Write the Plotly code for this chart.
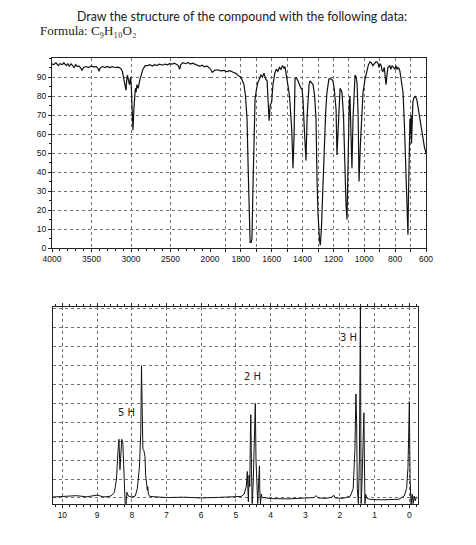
import plotly.graph_objects as go

# IR spectrum: wavenumber (cm-1) and % transmittance
ir_wavenumber = [
    4000, 3980, 3950, 3920, 3900, 3870, 3850, 3820, 3800, 3780, 3760, 3740, 3720, 3700,
    3680, 3660, 3640, 3620, 3600, 3570, 3540, 3500, 3470, 3440, 3420, 3405, 3390, 3360,
    3330, 3300, 3270, 3240, 3200, 3160, 3130, 3110, 3090, 3075, 3063, 3055, 3045, 3035,
    3020, 3005, 2995, 2985, 2975, 2965, 2955, 2945, 2935, 2925, 2910, 2895, 2885, 2870,
    2850, 2820, 2790, 2760, 2730, 2700, 2670, 2640, 2600, 2570, 2540, 2510, 2480, 2450,
    2420, 2400, 2385, 2370, 2340, 2310, 2280, 2250, 2220, 2190, 2160, 2130, 2100, 2070,
    2040, 2020, 2000,
]
ir_transmittance = [
    97, 96.5, 97.5, 96, 97, 96.5, 97.5, 96, 97, 95.5, 97, 96, 95, 96.5,
    95.5, 95.8, 95, 93.5, 95, 95.5, 95, 95.8, 95.2, 95.6, 94.5, 93, 94.8, 95.5,
    95, 95.6, 95, 95.4, 95, 95.2, 94.5, 93, 88, 85, 83, 88, 91, 89,
    86, 90, 84, 72, 62, 72, 80, 84, 82, 86, 84, 88, 89, 91,
    94, 96, 96, 96.5, 95.8, 96.5, 96, 96.8, 96.2, 96.8, 96.4, 97, 96.8, 97.3,
    96.5, 96, 94, 96.5, 97.5, 97, 97.6, 96.8, 97.3, 96.8, 96.4, 95.6, 96.2, 95.4,
    95.8, 95, 94.5,
]
ir_wavenumber_fp = [
    2000, 1985, 1970, 1950, 1930, 1910, 1890, 1870, 1850, 1830, 1815, 1800, 1790, 1780,
    1770, 1760, 1752, 1745, 1740, 1733, 1728, 1722, 1715, 1708, 1700, 1690, 1680, 1670,
    1660, 1650, 1640, 1630, 1625, 1617, 1610, 1600, 1592, 1580, 1570, 1560, 1550, 1540,
    1530, 1520, 1514, 1505, 1495, 1488, 1482, 1470, 1462, 1455, 1449, 1440, 1430, 1418,
    1410, 1404, 1397, 1390, 1378, 1370, 1365, 1358, 1352, 1342, 1332, 1322, 1313, 1306,
    1300, 1290, 1285, 1278, 1268, 1260, 1250, 1242, 1235, 1229, 1215, 1203, 1195, 1188,
    1183, 1177, 1170, 1163, 1157, 1150, 1145, 1135, 1125, 1118, 1112, 1105, 1098, 1093,
    1087, 1080, 1073, 1066, 1060, 1053, 1047, 1040, 1034, 1025, 1015, 1008, 995, 983,
    973, 963, 955, 944, 935, 925, 918, 910, 905, 898, 890, 885, 879, 870,
    863, 859, 853, 847, 835, 828, 820, 812, 801, 795, 788, 782, 775, 769,
    760, 749, 740, 730, 722, 717, 714, 711, 708, 704, 700, 697, 694, 691,
    688, 685, 678, 670, 659, 650, 640, 630, 620, 610, 600,
]
ir_transmittance_fp = [
    94.5, 92.5, 93.5, 93.8, 93.2, 93.5, 92.8, 93.3, 92.5, 91.8, 90.5, 90, 88, 86,
    80, 68, 40, 15, 3, 3, 5, 30, 60, 78, 83, 87, 89, 91,
    90, 92, 89, 88, 80, 67, 75, 77, 86, 92, 94, 93, 95, 94,
    96, 94.5, 95.5, 91, 87, 82, 77, 62, 42, 60, 89, 89.5, 88, 86,
    84, 84, 78, 65, 46, 70, 80, 86, 88, 87, 86, 80, 68, 35,
    18, 4, 1.5, 10, 33, 55, 72, 82, 87, 89, 89, 88, 84, 78,
    73, 49, 62, 78, 84, 83, 82, 70, 33, 22, 15, 59, 75, 80,
    65, 42, 68, 85, 91, 90, 87, 70, 35, 55, 77, 82, 89, 94,
    96.5, 98, 97.5, 96, 97, 98, 98, 97, 95, 97, 96, 93.5, 93, 95,
    89, 86, 91, 95, 96, 94, 96, 95, 94, 96, 94, 95, 94.5, 93,
    88, 82, 65, 42, 20, 7, 25, 50, 62, 68, 60, 70, 55, 60,
    72, 77, 79, 80, 78, 73, 68, 63, 57, 53, 50,
]

# 1H NMR spectrum: chemical shift (ppm) and intensity
nmr_ppm = [
    10.27, 9.9, 9.6, 9.3, 9.0, 8.8, 8.6, 8.5, 8.44, 8.40, 8.37, 8.34, 8.32, 8.29,
    8.26, 8.23, 8.21, 8.19, 8.17, 8.14, 8.1, 8.0, 7.9, 7.84, 7.78, 7.74, 7.72, 7.70,
    7.68, 7.65, 7.62, 7.60, 7.57, 7.55, 7.54, 7.52, 7.48, 7.3, 7.0, 6.5, 6.0, 5.5,
    5.0, 4.85, 4.76, 4.70, 4.67, 4.66, 4.64, 4.62, 4.60, 4.58, 4.57, 4.55, 4.53, 4.50,
    4.47, 4.44, 4.42, 4.40, 4.37, 4.34, 4.32, 4.31, 4.29, 4.27, 4.24, 4.2, 4.0, 3.5,
    3.0, 2.75, 2.69, 2.62, 2.4, 2.22, 2.18, 2.14, 1.9, 1.7, 1.62, 1.57, 1.54, 1.52,
    1.50, 1.47, 1.44, 1.42, 1.41, 1.40, 1.39, 1.37, 1.34, 1.31, 1.29, 1.28, 1.26, 1.23,
    1.19, 1.1, 0.8, 0.5, 0.3, 0.15, 0.08, 0.04, 0.02, 0.0, -0.02, -0.05, -0.08, -0.11,
    -0.14, -0.17, -0.2, -0.24,
]
nmr_intensity = [
    0.05, 0.08, 0.12, 0.06, 0.15, 0.05, 0.1, 0.3, 1.0, 2.4, 3.1, 1.5, 2.6, 3.1,
    3.0, 1.0, 0.1, -0.3, -0.5, 0.3, 0.1, 0.05, 0.1, 0.5, 1.6, 3.5, 7.0, 4.0,
    2.6, 2.5, 2.2, 1.2, 0.8, 0.4, 0.6, 0.2, 0.08, 0.05, 0.02, 0.04, 0.0, 0.03,
    0.05, 0.08, 0.2, 0.6, 1.4, 0.5, -0.2, 1.2, 0.6, 3.5, 4.4, 1.5, -0.3, 0.8,
    4.0, 5.0, 2.0, 0.6, -0.3, 1.0, 1.7, 0.4, -0.3, 0.2, 0.0, 0.02, -0.03, -0.05,
    -0.02, 0.02, 0.12, 0.0, -0.02, 0.05, 0.15, 0.0, -0.02, 0.1, 0.5, 2.5, 5.5, 4.0,
    0.5, -0.3, 2.0, 7.6, 10.5, 4.0, -0.3, 0.5, 3.0, 4.5, 1.0, -0.3, 0.2, 0.0,
    -0.05, -0.08, -0.1, -0.1, -0.07, 0.1, 0.5, 1.6, 3.5, 5.1, 1.0, -0.4, 0.2, -0.3,
    0.1, -0.15, 0.05, 0.0,
]

# integration labels
int_labels = ["5 H", "2 H", "3 H"]
int_x = [8.14, 4.51, 1.74]
int_y = [4.5, 6.45, 8.47]

ir_ticks_left = [4000, 3500, 3000, 2500]
ir_ticks_y = [0, 10, 20, 30, 40, 50, 60, 70, 80, 90]
nmr_ticks = [10, 9, 8, 7, 6, 5, 4, 3, 2, 1, 0]

# the page body has an 8px margin, so the figure is shrunk and everything
# is placed in reference pixels minus that offset
OFF = 8
W, H = 476 - 2 * OFF, 545 - 2 * OFF


def fx(px):
    return (px - OFF) / W


def fy(py):
    return 1 - (py - OFF) / H


GRID = "#707070"
TICKFONT = dict(family="Liberation Sans Narrow, Liberation Sans, Arial", size=8.5, color="#111")

fig = go.Figure()

fig.add_trace(go.Scatter(
    x=ir_wavenumber, y=ir_transmittance, mode="lines",
    line=dict(color="#111", width=1.2), xaxis="x", yaxis="y", hoverinfo="skip",
))
fig.add_trace(go.Scatter(
    x=ir_wavenumber_fp, y=ir_transmittance_fp, mode="lines",
    line=dict(color="#111", width=1.2), xaxis="x2", yaxis="y2", hoverinfo="skip",
))
fig.add_trace(go.Scatter(
    x=nmr_ppm, y=nmr_intensity, mode="lines",
    line=dict(color="#111", width=1), xaxis="x3", yaxis="y3", hoverinfo="skip",
))

ir_y_dom = [fy(248), fy(58)]
nmr_y_dom = [fy(504), fy(307)]

axis_common = dict(
    showline=True, linecolor="#222", linewidth=1.2,
    showgrid=True, gridcolor=GRID, griddash="dot", gridwidth=1,
    zeroline=False, tickfont=TICKFONT, tickcolor="#222", automargin=False,
)

fig.update_layout(
    width=W, height=H,
    margin=dict(l=0, r=0, t=0, b=0, autoexpand=False),
    paper_bgcolor="white", plot_bgcolor="white",
    showlegend=False,
    xaxis=dict(
        axis_common, domain=[fx(52), fx(210)], range=[4000, 2000], anchor="y",
        tickmode="array", tickvals=ir_ticks_left, ticktext=[str(v) for v in ir_ticks_left],
        ticks="outside", ticklen=3, mirror=True,
        minor=dict(dtick=100, tick0=0, ticks="outside", ticklen=2, showgrid=False),
    ),
    xaxis2=dict(
        axis_common, domain=[fx(210), fx(426)], range=[2000, 600], anchor="y2",
        tickmode="linear", tick0=600, dtick=200,
        ticks="outside", ticklen=3, mirror=True,
        minor=dict(dtick=100, tick0=0, ticks="outside", ticklen=3, showgrid=True,
                   gridcolor=GRID, griddash="dot", gridwidth=1),
    ),
    yaxis=dict(
        axis_common, domain=ir_y_dom, range=[0, 100], anchor="x",
        tickmode="array", tickvals=ir_ticks_y, ticks="outside", ticklen=3,
        minor=dict(dtick=5, ticks="outside", ticklen=2, showgrid=False),
    ),
    yaxis2=dict(
        axis_common, domain=ir_y_dom, range=[0, 100], anchor="x2", side="right",
        tickmode="array", tickvals=ir_ticks_y, showticklabels=False,
        ticks="inside", ticklen=2,
    ),
    xaxis3=dict(
        axis_common, domain=[fx(53), fx(417.7)], range=[10.27, -0.24], anchor="y3",
        tickmode="array", tickvals=nmr_ticks, ticktext=[str(v) for v in nmr_ticks],
        ticks="outside", ticklen=3, mirror="ticks",
        minor=dict(dtick=0.2, tick0=0, ticks="outside", ticklen=2, showgrid=False),
    ),
    yaxis3=dict(
        axis_common, domain=nmr_y_dom, range=[-0.32, 10.1], anchor="x3",
        tickmode="linear", tick0=0, dtick=1, showticklabels=False,
        ticks="", mirror=True,
    ),
)

# headings
fig.add_annotation(
    text="Draw the structure of the compound with the following data:",
    x=fx(242), y=fy(16), xref="paper", yref="paper", showarrow=False,
    xanchor="center", yanchor="middle",
    font=dict(family="Lato, Open Sans, sans-serif", size=12.4, color="#1a1a1a"),
)
fig.add_annotation(
    text="Formula: C₉H₁₀O₂",
    x=fx(38), y=fy(31), xref="paper", yref="paper", showarrow=False,
    xanchor="left", yanchor="middle",
    font=dict(family="Liberation Serif, serif", size=13, color="#1a1a1a"),
)

for lab, lx, ly in zip(int_labels, int_x, int_y):
    fig.add_annotation(
        text=lab, x=lx, y=ly, xref="x3", yref="y3", showarrow=False,
        font=dict(family="DejaVu Sans, sans-serif", size=10, color="#222"),
    )

fig.write_html("out.html")
